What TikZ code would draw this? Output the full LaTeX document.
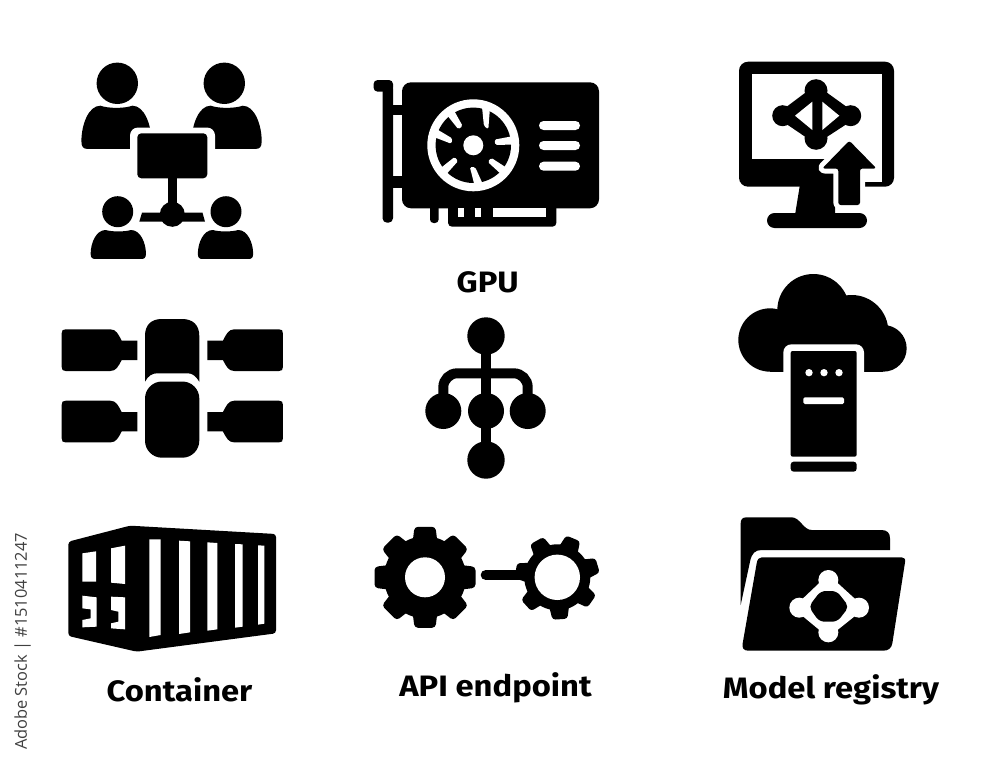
\documentclass[tikz,border=0pt]{standalone}
\usepackage{fontspec}
\setmainfont[FakeStretch=1.11]{Fira Sans}
\newfontfamily\stockfont{Open Sans}
\begin{document}
\begin{tikzpicture}[x=1pt, y=-1pt,
    ink/.style={fill=black},
    cut/.style={fill=white},
    caption/.style={font=\fontsize{29.5}{32}\selectfont\bfseries, anchor=base}]
    \useasboundingbox (0, 0) rectangle (1000, 768);

    % people around a network
    \fill[ink] (117.3, 83.3) circle (20.7);
    \fill[ink] (224.3, 83.3) circle (20.7);
    \fill[ink] (117.7, 211.7) circle (15.5);
    \fill[ink] (226, 211.7) circle (15.5);
    \foreach \px/\py/\sx/\sy in {116.4/105.7/1/0.96, 226.7/105.7/1/0.96, 118.3/230/0.79/0.644, 225.5/230/0.79/0.644}
        \fill[ink, shift={(\px, \py)}, xscale=\sx, yscale=\sy]
            (-35, 37) .. controls (-35, 20) and (-28, 0) .. (-16, 0)
            .. controls (-8, 3) and (8, 3) .. (16, 0)
            .. controls (28, 0) and (35, 20) .. (35, 37)
            .. controls (35, 43) and (33, 45) .. (29, 45) -- (-29, 45)
            .. controls (-33, 45) and (-35, 43) .. (-35, 37) -- cycle;
    \fill[cut, rounded corners=8pt] (130, 127.5) rectangle (215, 185);
    \fill[ink, rounded corners=4pt] (137.3, 133.3) rectangle (207.3, 178.3);
    \fill[ink] (167.7, 175) rectangle (176.7, 215);
    \fill[ink] (142, 212.7) -- (202.5, 212.7) -- (205, 221.7) -- (139.3, 221.7) -- cycle;
    \fill[ink] (172.3, 214.3) circle (12.5);

    % graphics card
    \fill[ink, rounded corners=4pt] (373.6, 80) rectangle (393, 91.7);
    \fill[ink, rounded corners=4.5pt] (382.5, 84) rectangle (393, 222.7);
    \fill[ink] (390, 105) rectangle (405, 115);
    \fill[ink] (390, 176) rectangle (405, 188.3);
    \fill[ink, rounded corners=3.5pt] (430, 200) rectangle (438.6, 223);
    \fill[ink, rounded corners=4pt] (448, 200) rectangle (556.4, 226.7);
    \fill[ink, rounded corners=9pt] (402, 82.3) rectangle (599, 208.3);
    \fill[cut] (458, 208.3) rectangle (464, 216.7);
    \fill[cut] (475, 208.3) rectangle (481.4, 216.7);
    \fill[cut] (493, 208.3) rectangle (545.7, 216.7);
    \fill[cut, rounded corners=4.5pt] (539, 121) rectangle (580, 130);
    \fill[cut, rounded corners=4.5pt] (539, 141) rectangle (580, 150);
    \fill[cut, rounded corners=4.5pt] (539, 161.7) rectangle (580, 170.7);
    \fill[cut] (473.3, 145.3) circle (46);
    \fill[ink] (473.3, 145.3) circle (37.7);
    \fill[cut] (473.3, 145.3) circle (10);
    \foreach \a/\b in {-54/-72, -8/-7, 42/40, 92/82, 141/139, 191/198, 234/235}
        \fill[cut, shift={(473.3, 145.3)}, rounded corners=1.5pt]
            (\a-7:22) -- (\b-6:41) -- (\b+6:41) -- (\a+7:22) -- cycle;
    \node[caption] (gpulabel) at (487.7, 292) {GPU};

    % monitor with upload arrow
    \fill[ink, rounded corners=9pt] (739, 61.7) rectangle (894, 186.7);
    \fill[cut] (751.7, 74) rectangle (882.3, 159);
    \fill[cut] (850, 159) rectangle (882.3, 181.7);
    \fill[ink] (800.7, 180) -- (795, 215) -- (835, 215) -- (835, 180) -- cycle;
    \fill[ink, rounded corners=7.5pt] (767, 213) rectangle (867, 228);
    \draw[line width=9.6pt, line join=round, fill=black] (816, 90.7) -- (850.7, 115.7) -- (816, 138.3) -- (782.7, 115.7) -- cycle;
    \fill[ink] (816, 90.7) circle (11.5);
    \fill[ink] (816, 138.3) circle (11.5);
    \fill[ink] (782.7, 115.7) circle (10.5);
    \fill[ink] (850.7, 115.7) circle (10.5);
    \fill[cut] (795, 115.7) -- (812.3, 101.7) -- (812.3, 130) -- cycle;
    \fill[cut] (822.3, 101.7) -- (839.3, 115.7) -- (822.3, 130) -- cycle;
    \fill[ink, rounded corners=2.5pt, preaction={draw=white, line width=10pt, line join=round}]
        (849.3, 140.7) -- (876.5, 168.5) -- (860, 168.5) -- (860, 205) -- (838.3, 205) -- (838.3, 168.5) -- (822.2, 168.5) -- cycle;

    % central block with four modules
    \foreach \sx/\py in {1/329.3, 1/400.7, -1/329.3, -1/400.7}
        \fill[ink, shift={(172.3, \py)}, xscale=\sx]
            (-106.6, 0) -- (-62, 0) .. controls (-56, 0) and (-54, 5) .. (-50.6, 11.4)
            -- (-35, 11.4) -- (-35, 30.7) -- (-50.6, 30.7)
            .. controls (-54, 37) and (-56, 41.7) .. (-62, 41.7) -- (-106.6, 41.7)
            .. controls (-109.6, 41.7) and (-110.6, 40.7) .. (-110.6, 37.7) -- (-110.6, 4)
            .. controls (-110.6, 1) and (-109.6, 0) .. (-106.6, 0) -- cycle;
    \fill[ink] (145, 381.7) -- (145, 336) .. controls (145, 325) and (151, 319) .. (162, 319)
        -- (182, 319) .. controls (193, 319) and (199.3, 325) .. (199.3, 336) -- (199.3, 381.7)
        .. controls (196, 376) and (192, 373.3) .. (188, 373.3) -- (157, 373.3)
        .. controls (152, 373.3) and (148, 376) .. (145, 381.7) -- cycle;
    \fill[ink, rounded corners=17pt] (145, 381.5) rectangle (199.3, 457.7);

    % branching tree
    \draw[line width=10pt] (486, 336) -- (486, 460);
    \draw[line width=10pt, rounded corners=14pt] (443.3, 411) -- (443.3, 373.3) -- (527.7, 373.3) -- (527.7, 411);
    \fill[ink] (486, 336) circle (18.7);
    \fill[ink] (486, 411) circle (18);
    \fill[ink] (443.3, 411) circle (18);
    \fill[ink] (527.7, 411) circle (18);
    \fill[ink] (486, 460) circle (18.7);

    % cloud above a server
    \begin{scope}[shift={(720, 265)}, scale=1/3]
        \fill[ink] (150, 225) circle (95);
        \fill[ink] (280, 135) circle (108);
        \fill[ink] (395, 200) circle (110);
        \fill[ink] (490, 250) circle (70);
        \fill[ink] (150, 200) rectangle (490, 320);
        \fill[cut, rounded corners=8pt] (190, 238) rectangle (432, 400);
        \fill[cut] (190, 320) rectangle (432, 400);
        \fill[ink, rounded corners=2pt] (212, 258) rectangle (410, 575);
        \fill[ink, rounded corners=3pt] (212, 590) -- (410, 590) -- (410, 620) -- (212, 620) -- cycle;
        \fill[cut] (267, 323) circle (11);
        \fill[cut] (312, 323) circle (11);
        \fill[cut] (357, 323) circle (11);
        \fill[cut, rounded corners=1.5pt] (250, 397) rectangle (372, 417);
    \end{scope}

    % shipping container
    \begin{scope}[shift={(50, 510)}, scale=1/3]
        \fill[ink, rounded corners=3pt] (55, 95) -- (240, 47) -- (678, 72) -- (678, 370) -- (260, 425) -- (55, 378) -- cycle;
        \fill[cut] (298, 88) -- (332, 88) -- (332, 375) -- (298, 381) -- cycle;
        \fill[cut] (387, 92) -- (420, 94) -- (420, 367) -- (387, 372) -- cycle;
        \fill[cut] (472, 97) -- (502, 99) -- (502, 358) -- (472, 362) -- cycle;
        \fill[cut] (555, 102) -- (578, 103) -- (578, 350) -- (555, 353) -- cycle;
        \fill[cut] (624, 106) -- (643, 107) -- (643, 341) -- (624, 344) -- cycle;
        \fill[cut] (97, 130) -- (138, 124) -- (138, 215) -- (97, 215) -- cycle;
        \fill[cut] (183, 115) -- (225, 107) -- (225, 222) -- (183, 218) -- cycle;
        \fill[cut] (97, 257) -- (140, 262) -- (140, 350) -- (97, 352) -- (97, 330) -- (122, 325) -- (122, 298) -- (97, 295) -- cycle;
        \fill[cut] (183, 260) -- (225, 262) -- (225, 358) -- (183, 355) -- (183, 340) -- (205, 335) -- (205, 305) -- (183, 300) -- cycle;
    \end{scope}
    \node[caption] (containerlabel) at (179.5, 701) {Container};

    % two linked gears
    \foreach \a in {0, 45, ..., 315}
        \fill[ink, shift={(425, 577.3)}, rotate=\a, rounded corners=3.5pt] (30, -13) -- (50.5, -10.5) -- (50.5, 10.5) -- (30, 13) -- cycle;
    \fill[ink] (425, 577.3) circle (41);
    \fill[cut] (425, 577.3) circle (20);
    \draw[line width=10pt, line cap=round] (485.7, 575) -- (520, 575);
    \foreach \a in {16.5, 67.93, 119.36, 170.79, 222.22, 273.65, 325.08}
        \fill[ink, shift={(557.3, 577.3)}, rotate=\a, rounded corners=3pt] (26, -10.5) -- (42, -7.5) -- (42, 7.5) -- (26, 10.5) -- cycle;
    \fill[ink] (557.3, 577.3) circle (33);
    \fill[cut] (557.3, 577.3) circle (22.7);
    \node[caption] (apilabel) at (495.5, 696) {API endpoint};

    % folder with model graph
    \begin{scope}[shift={(720, 505)}, scale=1/3]
        \fill[ink] (62, 300) -- (62, 55) .. controls (62, 42) and (68, 37) .. (80, 37) -- (215, 37)
            .. controls (240, 37) and (250, 75) .. (275, 75) -- (485, 75)
            .. controls (502, 75) and (510, 85) .. (510, 100) -- (510, 135) -- (125, 135)
            .. controls (105, 135) and (95, 145) .. (90, 170) -- cycle;
        \fill[ink] (125, 157) -- (545, 157) .. controls (553, 157) and (557, 162) .. (555, 172)
            -- (517, 415) .. controls (514, 430) and (505, 437) .. (490, 437) -- (85, 437)
            .. controls (72, 437) and (65, 430) .. (68, 415) -- (110, 175)
            .. controls (112, 163) and (117, 157) .. (125, 157) -- cycle;
        \draw[white, fill=white, line width=13pt, line join=round] (325, 235) -- (405, 308) -- (325, 372) -- (248, 308) -- cycle;
        \fill[cut] (325, 225) circle (30);
        \fill[cut] (417, 308) circle (30);
        \fill[cut] (325, 382) circle (30);
        \fill[cut] (238, 308) circle (30);
        \fill[ink, rounded corners=5pt] (302, 258) -- (350, 258) -- (387, 305) -- (352, 350) -- (298, 350) -- (266, 305) -- cycle;
    \end{scope}
    \node[caption] (registrylabel) at (831, 698) {Model registry};

    \node[font=\stockfont\fontsize{16.4}{20}\selectfont, text=black!75, rotate=90, anchor=base] (stocklabel) at (27, 641.5) {Adobe Stock | \#1510411247};
\end{tikzpicture}
\end{document}
